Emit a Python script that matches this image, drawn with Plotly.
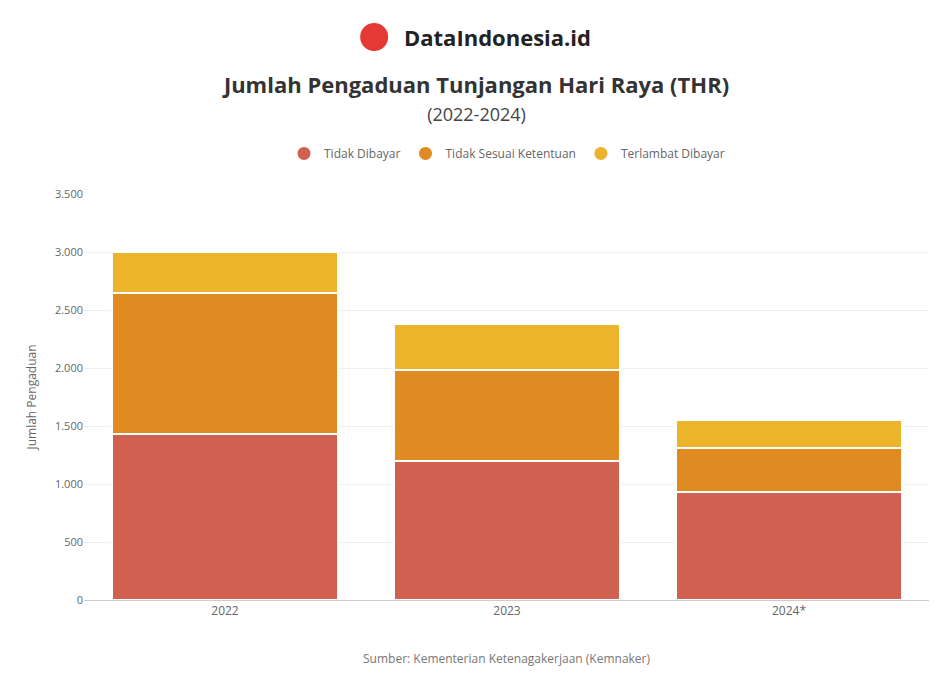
import plotly.graph_objects as go

years = ["2022", "2023", "2024*"]
tidak_dibayar = [1431, 1198, 931]
tidak_sesuai = [1216, 785, 379]
terlambat = [353, 396, 242]
series = [("Tidak Dibayar", tidak_dibayar, "#d0604f"),
          ("Tidak Sesuai Ketentuan", tidak_sesuai, "#e08a22"),
          ("Terlambat Dibayar", terlambat, "#ecb42a")]
tickvals = [0, 500, 1000, 1500, 2000, 2500, 3000, 3500]
ticktext = ["0", "500", "1.000", "1.500", "2.000", "2.500", "3.000", "3.500"]

fig = go.Figure()
for name, vals, col in series:
    fig.add_bar(x=years, y=vals, name=name, showlegend=False,
                marker=dict(color=col, line=dict(color="white", width=2)))
for name, vals, col in series:
    fig.add_scatter(x=[years[0]], y=[None], mode="markers", name=name,
                    marker=dict(color=col, size=13, symbol="circle"))

fig.update_layout(
    barmode="stack", bargap=0.2, width=937, height=676,
    paper_bgcolor="white", plot_bgcolor="white",
    font=dict(family="Open Sans", color="#555"),
    margin=dict(l=76, r=15, t=186, b=84),
    legend=dict(orientation="h", x=0.5, xanchor="center", y=1.1, yanchor="middle",
                traceorder="normal", font=dict(size=12, color="#666"), itemwidth=30),
    title=dict(text="<b>Jumlah Pengaduan Tunjangan Hari Raya (THR)</b><br><span style='font-size:18px;color:#444'>(2022-2024)</span>",
               x=0.5, xanchor="center", y=0.875, yanchor="middle", font=dict(size=22, color="#333")),
    yaxis=dict(range=[0, 3500], tickvals=tickvals, ticktext=ticktext, gridcolor="#eee",
               tickfont=dict(size=11, color="#666"), zeroline=False,
               title=dict(text="Jumlah Pengaduan", font=dict(size=12, color="#666"))),
    xaxis=dict(tickfont=dict(size=12, color="#666"), showline=True, linecolor="#ccc"),
)
fig.add_annotation(text="<b>DataIndonesia.id</b>", xref="paper", yref="paper", x=0.489, y=1,
                   yanchor="middle", yshift=157,
                   showarrow=False, font=dict(size=22, color="#222"))
fig.add_shape(type="circle", xref="paper", yref="paper", xsizemode="pixel", ysizemode="pixel",
              xanchor=0.343, yanchor=1, x0=-13, x1=13, y0=144, y1=170,
              fillcolor="#e53935", line=dict(color="#e53935"))
fig.add_annotation(text="Sumber: Kementerian Ketenagakerjaan (Kemnaker)", xref="paper", yref="paper",
                   x=0.5, y=-0.17, showarrow=False, font=dict(size=12, color="#777"))
fig.write_html("out.html")
